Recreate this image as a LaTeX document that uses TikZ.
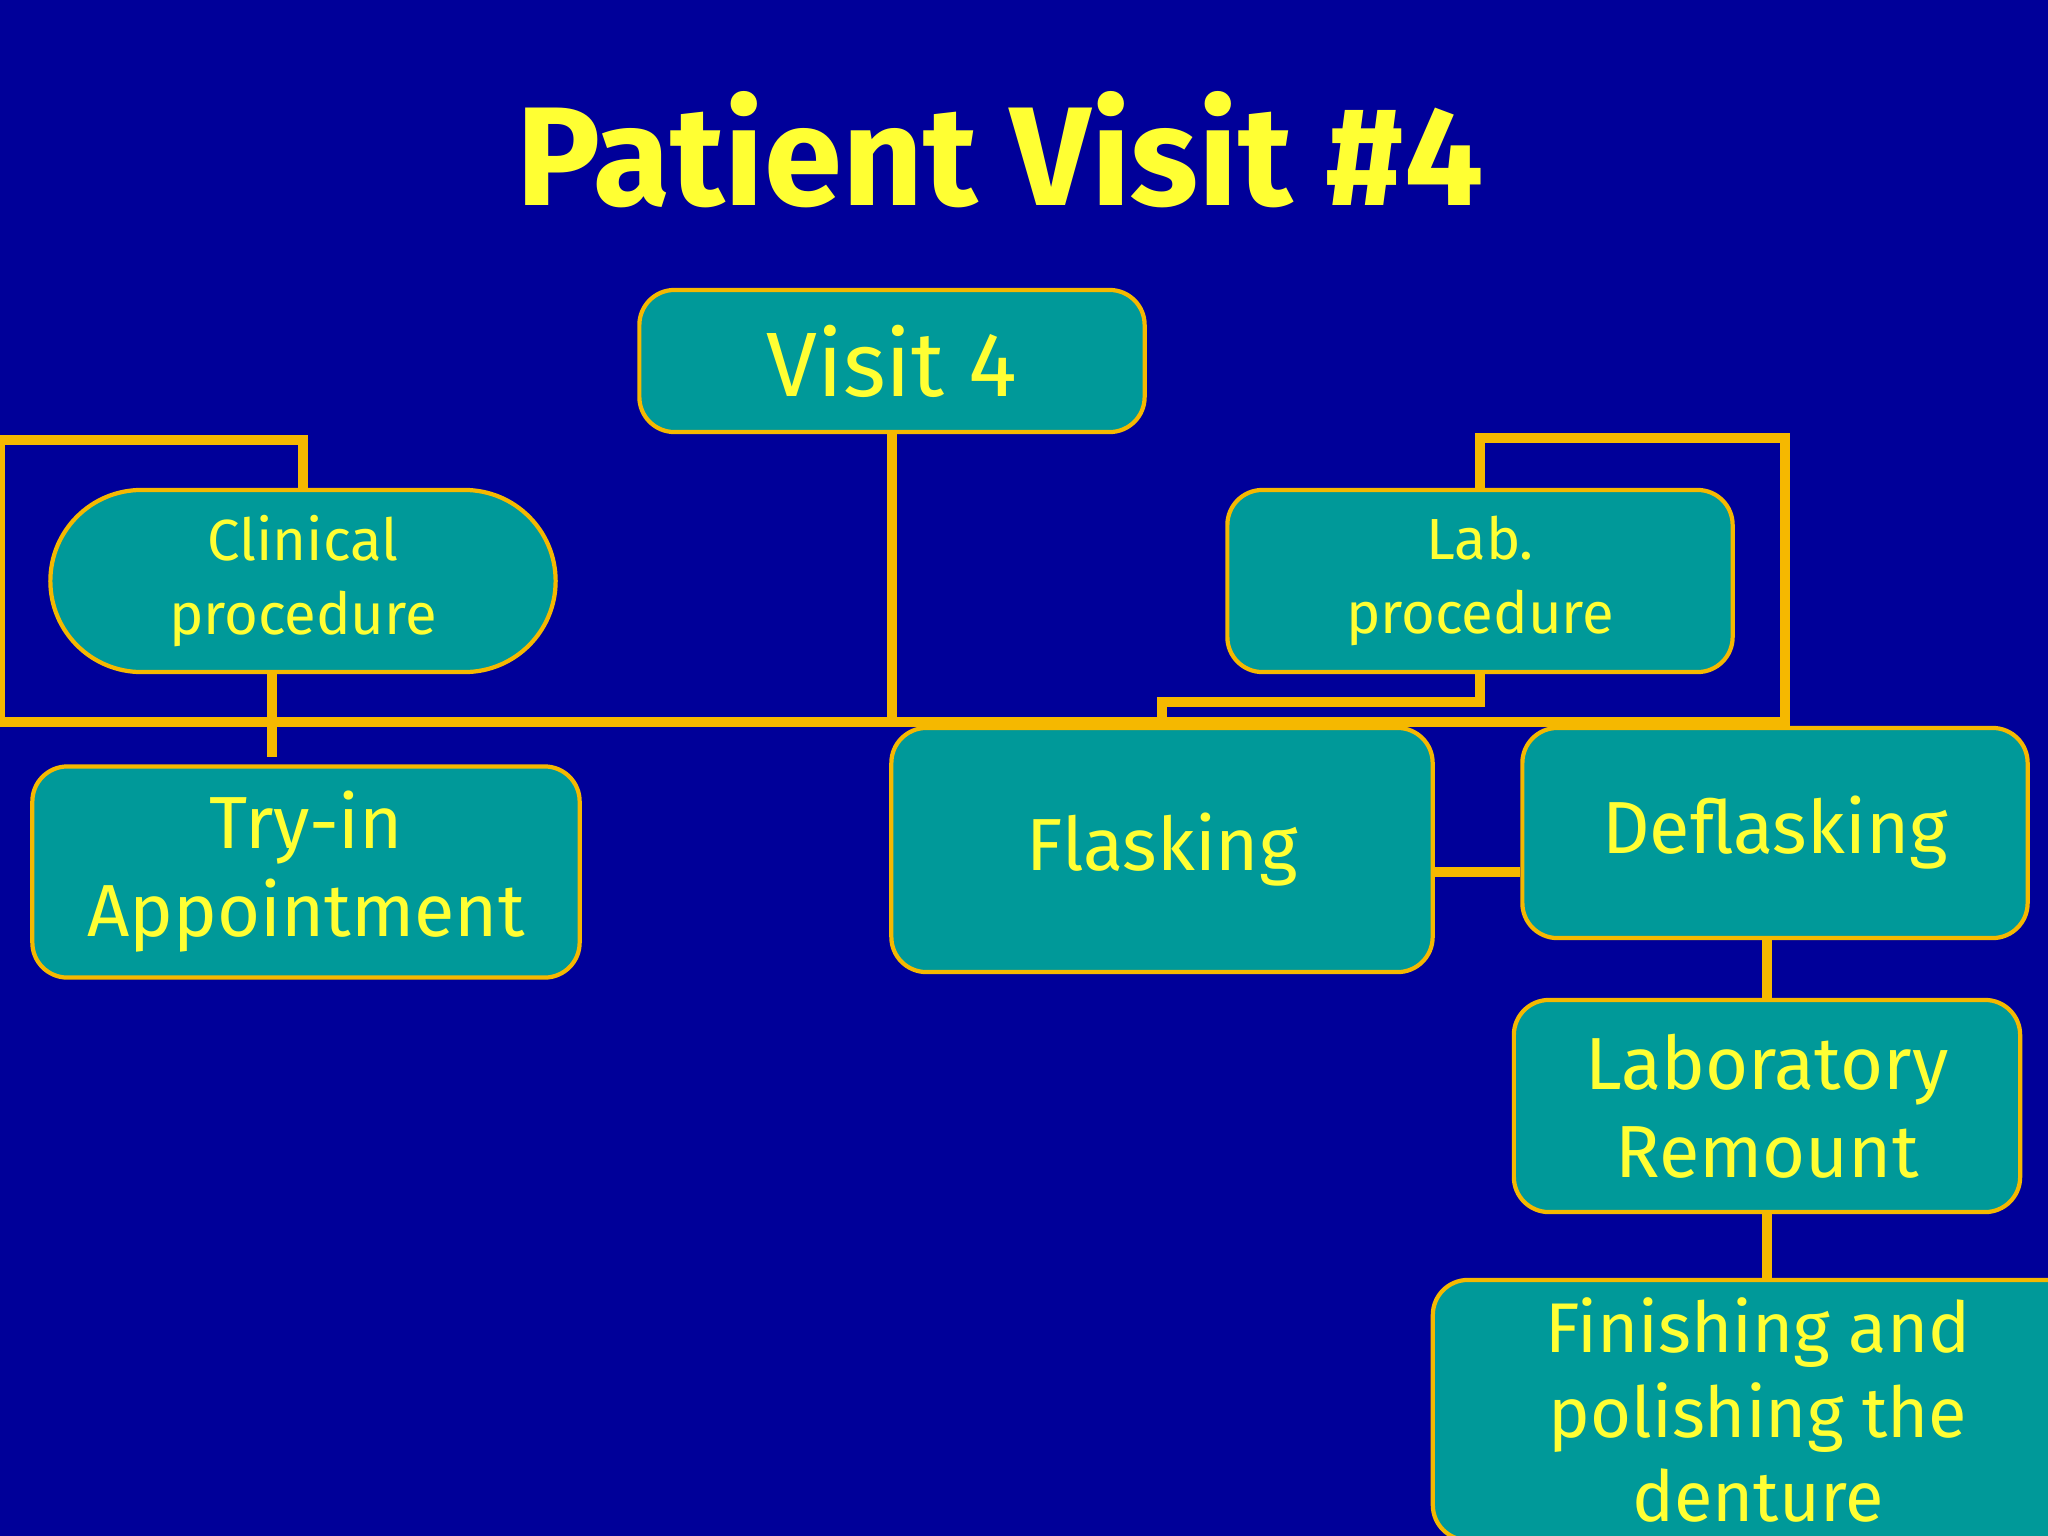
\documentclass[tikz,border=0pt]{standalone}
\usepackage{fontspec}
\setmainfont{Fira Sans}
\usetikzlibrary{shapes.misc}
\definecolor{bg}{HTML}{000099}
\definecolor{teal}{HTML}{009999}
\definecolor{ln}{HTML}{F5B800}
\definecolor{tx}{HTML}{FFFF33}
\begin{document}
\begin{tikzpicture}[x=0.01cm,y=-0.01cm,
  box/.style={draw=ln,line width=1.2pt,fill=teal,rounded corners=0.35cm,text=tx,align=center,inner sep=0pt},
  big/.style={font=\fontsize{21}{25}\selectfont},
  mid/.style={font=\fontsize{16.5}{21}\selectfont},
  con/.style={draw=ln,line width=3pt}]
\fill[bg] (0,0) rectangle (2048,1536);
\useasboundingbox (0,0) rectangle (2048,1536);
\node[text=tx,font=\fontsize{40}{46}\selectfont\bfseries] (title) at (1000,150) {Patient Visit \#4};
% connectors (drawn below nodes)
\coordinate (l0) at (0,440); \coordinate (m0) at (0,722);
\coordinate (m1) at (1785,722); \coordinate (r1) at (1785,438);
\coordinate (cpN) at (303,490); \coordinate (lpN) at (1480,490);
\draw[con] (cpN) |- (l0) -- (m0) -- (m1) -- (r1) -| (lpN);
\draw[con] (892,432) -- (892,722);
\draw[con] (272,672) -- (272,757);
% nodes
\node[box,minimum width=5.05cm,minimum height=1.42cm,font=\fontsize{26}{30}\selectfont] (v4) at (892,361) {Visit 4};
\node[box,rounded corners=0pt,rounded rectangle,minimum width=5.05cm,minimum height=1.82cm,mid] (cp) at (303,581) {Clinical\\procedure};
\node[box,minimum width=5.05cm,minimum height=1.82cm,mid] (lp) at (1480,581) {Lab.\\procedure};
\node[box,minimum width=5.47cm,minimum height=2.11cm,big] (try) at (306,872) {Try-in\\Appointment};
\node[box,minimum width=5.41cm,minimum height=2.44cm,big] (fl) at (1162,850) {Flasking};
\node[box,minimum width=5.05cm,minimum height=2.1cm,big] (dfl) at (1775,833) {Deflasking};
\node[box,minimum width=5.06cm,minimum height=2.12cm,big] (lr) at (1767,1106) {Laboratory\\ Remount};
\node[box,minimum width=6.5cm,minimum height=2.6cm,big,font=\fontsize{20}{24}\selectfont] (fin) at (1758,1410) {Finishing and\\polishing the\\ denture};
\draw[con] (lp.south) -- ++(0,28) -| (fl.north);
\draw[con] (fl.east |- 0,872) -- (dfl.west |- 0,872);
\draw[con] (dfl.south -| lr.north) -- (lr.north);
\draw[con] (lr.south) -- (lr.south |- fin.north);
\end{tikzpicture}
\end{document}
